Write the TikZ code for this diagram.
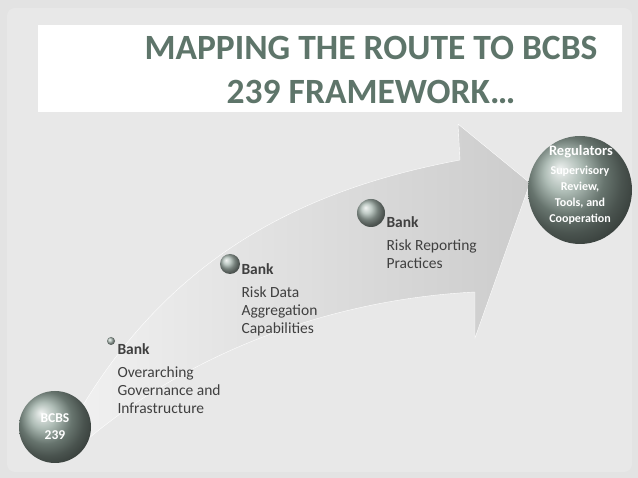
\documentclass[tikz,border=0pt]{standalone}
\usepackage{fontspec}
\setmainfont{Carlito}
\usetikzlibrary{shapes.geometric}
\definecolor{sage}{HTML}{93A69D}
\definecolor{titlec}{HTML}{5E756A}
\begin{document}
\begin{tikzpicture}[x=1pt,y=-1pt,
  ball/.style={circle,shading=ball,ball color=#1},
  lbl/.style={anchor=north west,align=left,text=black!75,font=\fontsize{15.5}{18}\selectfont},
  big/.style={ball color=sage,shading=ball,text=white,font=\bfseries\fontsize{13.5}{17}\selectfont,align=center,inner sep=0pt}]
\useasboundingbox (0,0) rectangle (638,478);
\fill[gray!22] (0,0) rectangle (638,478);
\fill[gray!18,rounded corners=8] (7,8) rectangle (632,472);
\fill[white] (38,25) rectangle (622,112);
\node[text=titlec,font=\bfseries\fontsize{35.5}{44}\selectfont,align=center] (title) at (371,70) {MAPPING THE ROUTE TO BCBS\\ 239 FRAMEWORK\dots};
% arrow
\shade[left color=gray!10,right color=gray!40,draw=white,line width=0.4pt]
  (52,462) .. controls (150,260) and (300,190) .. (460,160)
  -- (458,124) -- (530,183) -- (475,338) -- (475,292)
  .. controls (320,300) and (170,360) .. (62,462) -- cycle;
\node[big,circle,minimum size=72] (bcbs) at (55,427) {BCBS\\239};
\node[big,ellipse,minimum width=104,minimum height=108,font=\bfseries\fontsize{12}{16}\selectfont] (reg) at (580,190) {\\[2pt]Supervisory\\Review,\\Tools, and\\Cooperation};
\node[text=white,font=\bfseries\fontsize{14.5}{17}\selectfont] (regt) at (581,152) {Regulators};
\node[ball=sage!80,minimum size=8,inner sep=0] (s1) at (111,341) {};
\node[ball=sage!80,minimum size=20,inner sep=0] (s2) at (230,264) {};
\node[ball=sage!80,minimum size=28,inner sep=0] (s3) at (371,213) {};
\node[lbl] (b1) at (114,340) {\textbf{Bank}\\[5pt]Overarching\\Governance and\\Infrastructure};
\node[lbl] (b2) at (238,260) {\textbf{Bank}\\[5pt]Risk Data\\Aggregation\\Capabilities};
\node[lbl] (b3) at (383,213) {\textbf{Bank}\\[5pt]Risk Reporting\\Practices};
\end{tikzpicture}
\end{document}
